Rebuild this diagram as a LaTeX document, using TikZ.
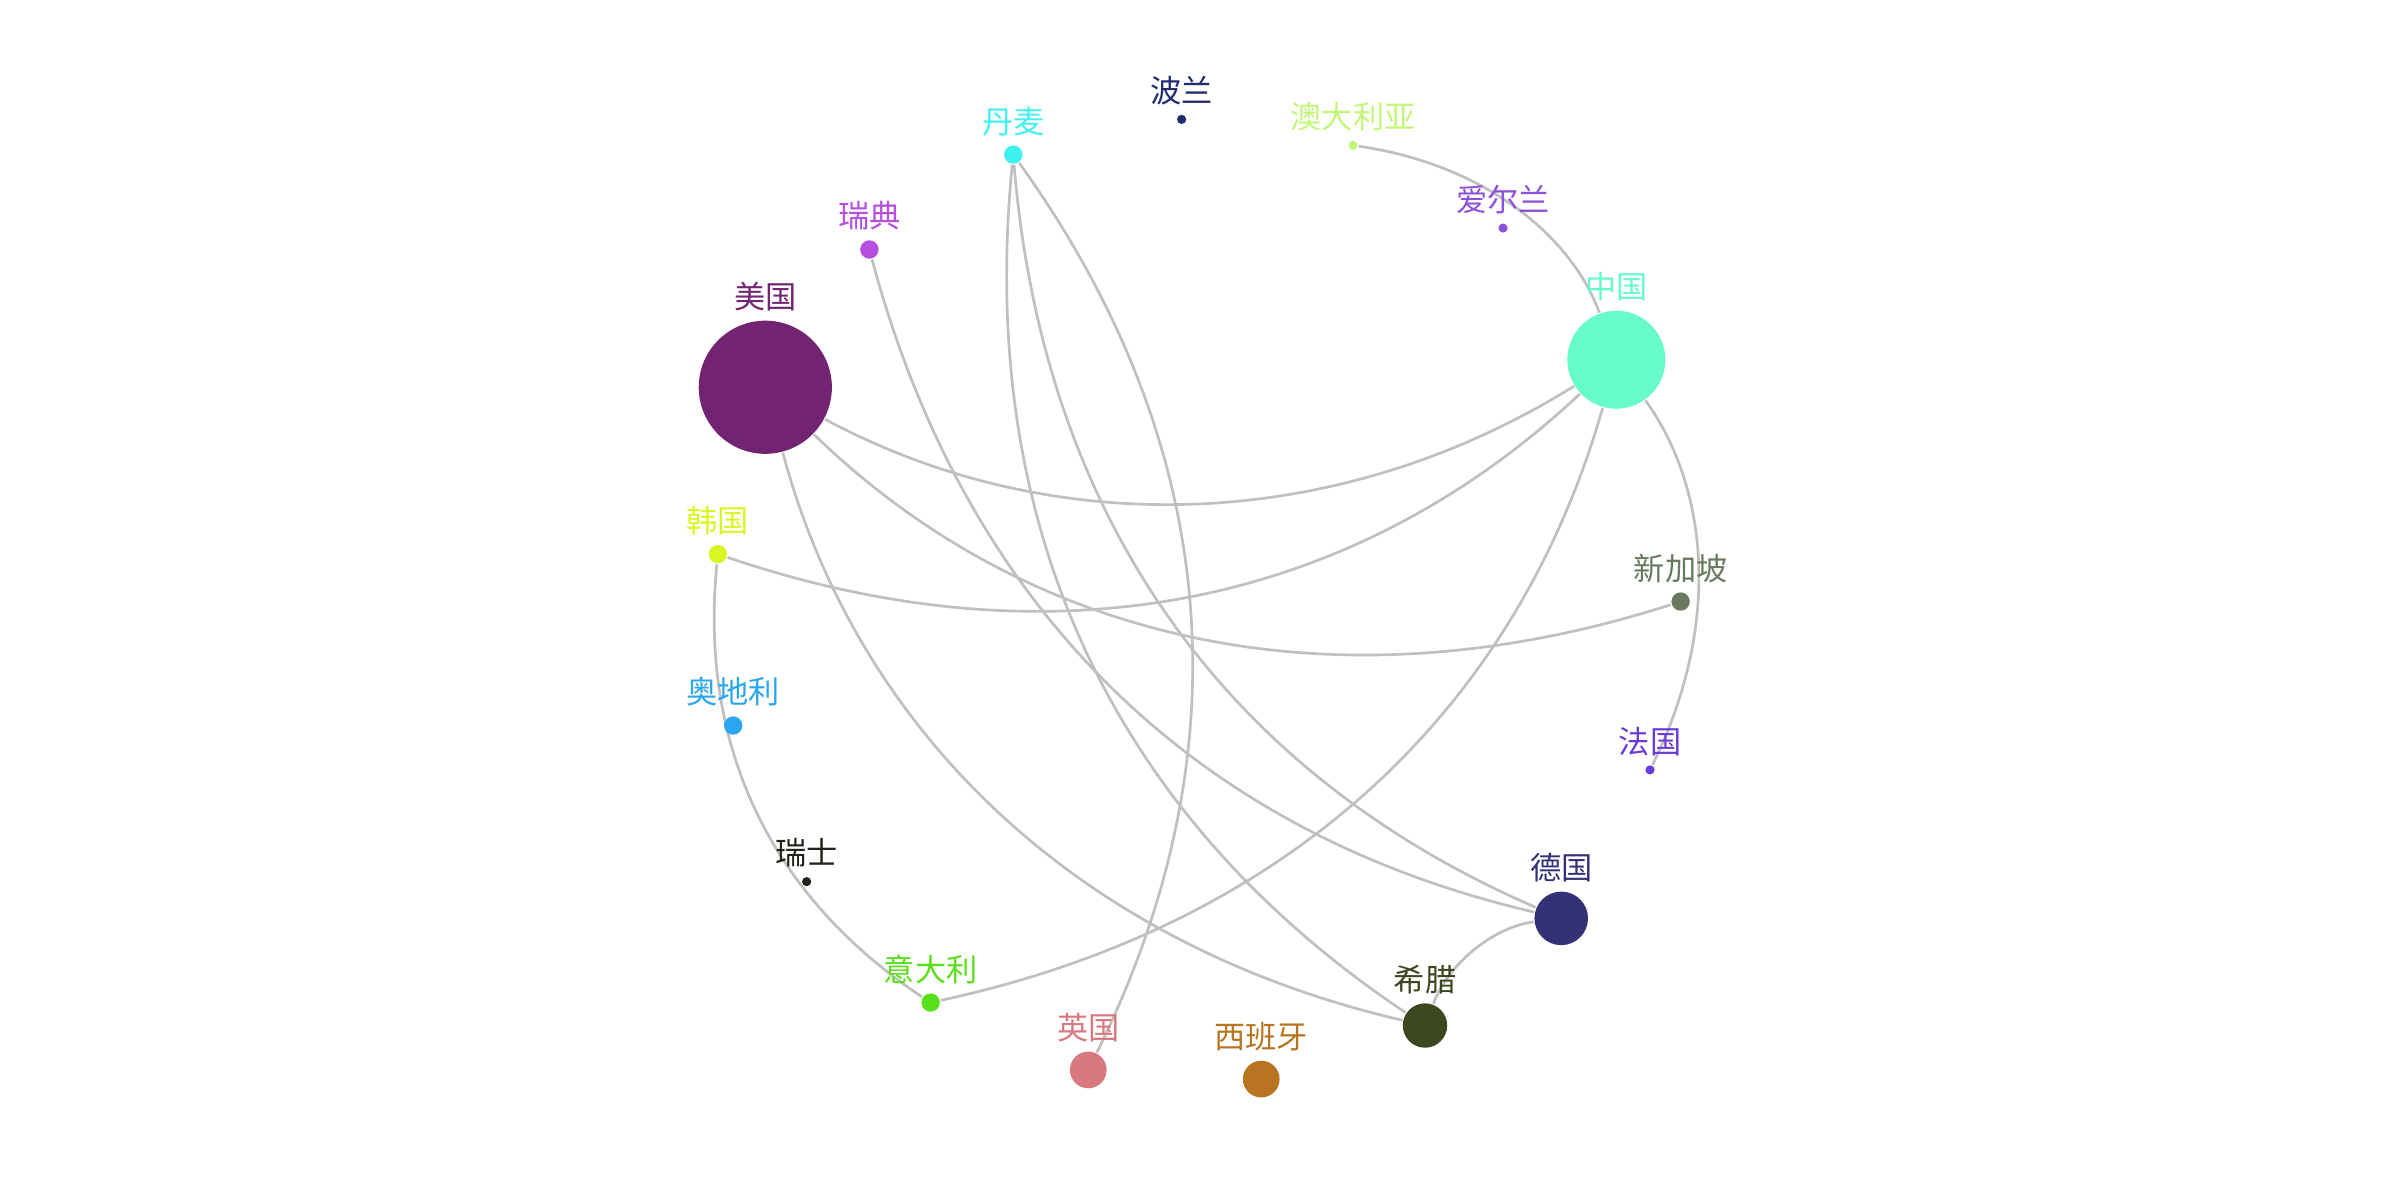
\documentclass[tikz,border=0pt]{standalone}
\usepackage{fontspec}
\newfontfamily\cjk{Noto Sans CJK SC}
\usetikzlibrary{calc,backgrounds}
\definecolor{edgegray}{HTML}{C0C0C0}
\definecolor{cUS}{HTML}{722472}
\definecolor{cCN}{HTML}{66FBC8}
\definecolor{cDE}{HTML}{353176}
\definecolor{cGR}{HTML}{3C4720}
\definecolor{cUK}{HTML}{D8787F}
\definecolor{cES}{HTML}{B87421}
\definecolor{cIT}{HTML}{59E01B}
\definecolor{cCH}{HTML}{22221A}
\definecolor{cAT}{HTML}{2AA6EF}
\definecolor{cKR}{HTML}{DAF622}
\definecolor{cSE}{HTML}{B64EDF}
\definecolor{cDK}{HTML}{3FF2F0}
\definecolor{cPL}{HTML}{1F2C6E}
\definecolor{cAU}{HTML}{C3F77A}
\definecolor{cIE}{HTML}{8D50D8}
\definecolor{cSG}{HTML}{6A7A5F}
\definecolor{cFR}{HTML}{6A3ADA}
\newcommand\qedge[3]{\draw[edge] (#1) .. controls ($(#1)!0.6667!(#3)$) and ($(#2)!0.6667!(#3)$) .. (#2);}
\begin{document}
\begin{tikzpicture}[x=0.1mm,y=-0.1mm,
  dot/.style={circle,inner sep=0pt,minimum size=#1,draw=none},
  lab/.style={font=\cjk\fontsize{5.8pt}{6pt}\selectfont,inner sep=0pt},
  label distance=0.5mm,
  edge/.style={draw=edgegray,line width=0.5pt}]
\useasboundingbox (0,0) rectangle (1568,784);
% nodes
\node[dot=8.7mm,fill=cUS,label={[lab,text=cUS]above:美国}] (us) at (500,253) {};
\node[dot=6.4mm,fill=cCN,label={[lab,text=cCN]above:中国}] (cn) at (1056,235) {};
\node[dot=3.5mm,fill=cDE,label={[lab,text=cDE]above:德国}] (de) at (1020,600) {};
\node[dot=2.9mm,fill=cGR,label={[lab,text=cGR]above:希腊}] (gr) at (931,670) {};
\node[dot=2.4mm,fill=cUK,label={[lab,text=cUK]above:英国}] (uk) at (711,699) {};
\node[dot=2.4mm,fill=cES,label={[lab,text=cES]above:西班牙}] (es) at (824,705) {};
\node[dot=1.2mm,fill=cIT,label={[lab,text=cIT]above:意大利}] (it) at (608,655) {};
\node[dot=0.6mm,fill=cCH,label={[lab,text=cCH]above:瑞士}] (ch) at (527,576) {};
\node[dot=1.2mm,fill=cAT,label={[lab,text=cAT]above:奥地利}] (at) at (479,474) {};
\node[dot=1.2mm,fill=cKR,label={[lab,text=cKR]above:韩国}] (kr) at (469,362) {};
\node[dot=1.2mm,fill=cSE,label={[lab,text=cSE]above:瑞典}] (se) at (568,163) {};
\node[dot=1.2mm,fill=cDK,label={[lab,text=cDK]above:丹麦}] (dk) at (662,101) {};
\node[dot=0.6mm,fill=cPL,label={[lab,text=cPL]above:波兰}] (pl) at (772,78) {};
\node[dot=0.6mm,fill=cAU,label={[lab,text=cAU]above:澳大利亚}] (au) at (884,95) {};
\node[dot=0.6mm,fill=cIE,label={[lab,text=cIE]above:爱尔兰}] (ie) at (982,149) {};
\node[dot=1.2mm,fill=cSG,label={[lab,text=cSG]above:新加坡}] (sg) at (1098,393) {};
\node[dot=0.6mm,fill=cFR,label={[lab,text=cFR]above:法国}] (fr) at (1078,503) {};
% edges (quadratic curves, drawn beneath the nodes)
\begin{scope}[on background layer]
\fill[white] (0,0) rectangle (1568,784);
\coordinate (q1) at (1012,113.4);
\coordinate (q2) at (1147.4,362.4);
\coordinate (q3) at (783.4,405);
\coordinate (q4) at (800.6,474.6);
\coordinate (q5) at (958,579.4);
\coordinate (q6) at (450.6,550.2);
\coordinate (q7) at (954.5,608.3);
\coordinate (q8) at (865.9,385.3);
\coordinate (q9) at (691.3,457.9);
\coordinate (q10) at (625.8,466.2);
\coordinate (q11) at (662.9,517.1);
\coordinate (q12) at (757,502.4);
\coordinate (q13) at (590.5,590.9);
\qedge{au}{cn}{q1}
\qedge{cn}{fr}{q2}
\qedge{us}{cn}{q3}
\qedge{kr}{cn}{q4}
\qedge{it}{cn}{q5}
\qedge{kr}{it}{q6}
\qedge{de}{gr}{q7}
\qedge{dk}{uk}{q8}
\qedge{dk}{de}{q9}
\qedge{dk}{gr}{q10}
\qedge{se}{de}{q11}
\qedge{us}{sg}{q12}
\qedge{us}{gr}{q13}
\end{scope}
\end{tikzpicture}
\end{document}
